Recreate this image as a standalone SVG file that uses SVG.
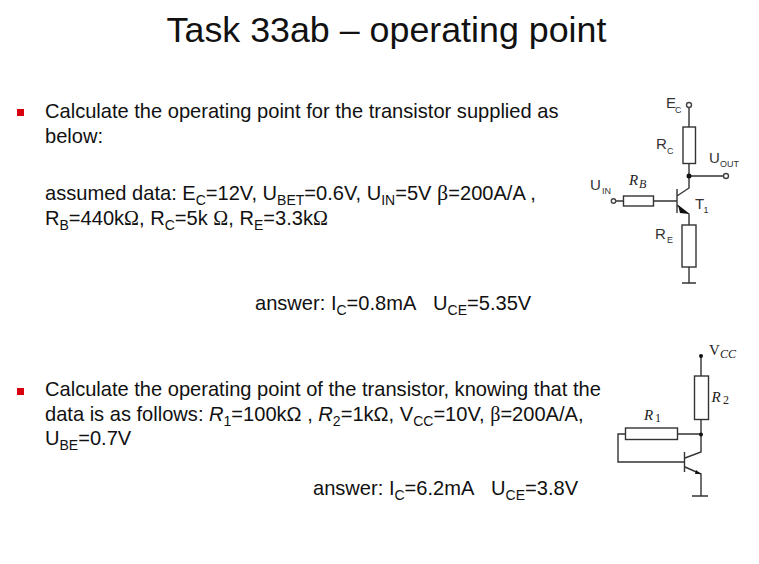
<svg xmlns="http://www.w3.org/2000/svg" width="759" height="564" viewBox="0 0 759 564">
<style>
text{font-family:"Liberation Sans",Arial,sans-serif;fill:#111}
.t{font-size:20.08px}
.s{font-size:14px}
.g{font-family:"Liberation Serif","Times New Roman",serif}
.i{font-style:italic}
.w{fill:none;stroke:#333;stroke-width:1.4}
.r{fill:#fff;stroke:#333;stroke-width:1.4}
.c{fill:#fff;stroke:#444;stroke-width:1.4}
.d{fill:#111;stroke:none}
.l{font-size:15px;fill:#333}
.l2{font-size:9px;fill:#333}
.sf{font-family:"Liberation Serif","Times New Roman",serif;fill:#222}
</style>
<rect width="759" height="564" fill="#fff"/>
<text x="386.500" y="42" font-size="35.800" text-anchor="middle">Task 33ab – operating point</text>
<g id="bullets" fill="#d8000f"><rect x="17" y="109" width="7" height="7"/><rect x="17" y="388" width="7" height="7"/></g>
<g id="task-a">
<text class="t" x="45" y="118">Calculate the operating point for the transistor supplied as</text>
<text class="t" x="45" y="143">below:</text>
<text class="t" x="45" y="200">assumed data: E<tspan class="s" dy="5">C</tspan><tspan dy="-5">=12V, U</tspan><tspan class="s" dy="5">BET</tspan><tspan dy="-5">=0.6V, U</tspan><tspan class="s" dy="5">IN</tspan><tspan dy="-5">=5V </tspan><tspan class="g" font-size="22">β</tspan>=200A/A ,</text>
<text class="t" x="45" y="225">R<tspan class="s" dy="5">B</tspan><tspan dy="-5">=440k</tspan><tspan class="g">Ω</tspan>, R<tspan class="s" dy="5">C</tspan><tspan dy="-5">=5k </tspan><tspan class="g">Ω</tspan>, R<tspan class="s" dy="5">E</tspan><tspan dy="-5">=3.3k</tspan><tspan class="g">Ω</tspan></text>
<text class="t" x="255" y="310">answer: I<tspan class="s" dy="5">C</tspan><tspan dy="-5">=0.8mA&#160;&#160; U</tspan><tspan class="s" dy="5">CE</tspan><tspan dy="-5">=5.35V</tspan></text>
</g>
<g id="task-b">
<text class="t" x="45" y="396">Calculate the operating point of the transistor, knowing that the</text>
<text class="t" x="45" y="421">data is as follows: <tspan class="i">R</tspan><tspan class="s" dy="5">1</tspan><tspan dy="-5">=100kΩ , </tspan><tspan class="i">R</tspan><tspan class="s" dy="5">2</tspan><tspan dy="-5">=1kΩ, V</tspan><tspan class="s" dy="5">CC</tspan><tspan dy="-5">=10V, </tspan><tspan class="g">β</tspan>=200A/A,</text>
<text class="t" x="45" y="445">U<tspan class="s" dy="5">BE</tspan><tspan dy="-5">=0.7V</tspan></text>
<text class="t" x="313" y="495">answer: I<tspan class="s" dy="5">C</tspan><tspan dy="-5">=6.2mA&#160;&#160; U</tspan><tspan class="s" dy="5">CE</tspan><tspan dy="-5">=3.8V</tspan></text>
</g>
<g id="connectors">
<path class="w" d="M689 107V127M689 163V176M689 176H724M689 176V188L677 196M616 201H623M653 201H677M677 189V213M677 205L689 214V225M689 267V283M682 283H696"/>
<path class="d" d="M678 205L689 214L680 213Z"/>
<path class="w" d="M701 356V376M701 419V452L685 458M677 434H701M625 434H618V462H684M684.500 452V472M685 467L701 474V496M692 496H708"/>
<path class="d" d="M696 470L701 474L695 474Z"/>
</g>
<g id="node-ec"><circle class="c" cx="689" cy="105" r="2.500"/><text class="l" x="666" y="108">E</text><text class="l2" x="675" y="113">C</text></g>
<g id="node-rc"><rect class="r" x="683" y="127" width="12.500" height="36.500"/><text class="l" x="656" y="149">R</text><text class="l2" x="667" y="154">C</text></g>
<g id="node-uout"><circle class="d" cx="689" cy="176" r="2.500"/><circle class="c" cx="726" cy="176" r="2.500"/><text class="l" x="709" y="163">U</text><text class="l2" x="720" y="167">OUT</text></g>
<g id="node-uin"><circle class="c" cx="613.500" cy="201" r="2.200"/><text class="l" x="590" y="190">U</text><text class="l2" x="602" y="194">IN</text></g>
<g id="node-rb"><rect class="r" x="623.500" y="196" width="30" height="10"/><text class="sf i" x="629" y="185" font-size="15">R</text><text class="sf i" x="639" y="188" font-size="12">B</text></g>
<g id="node-t1"><text class="l" x="695" y="209">T</text><text class="l2" x="703.500" y="213">1</text></g>
<g id="node-re"><rect class="r" x="682" y="225" width="14" height="42"/><text class="l" x="655" y="239">R</text><text class="l2" x="667" y="243">E</text></g>
<g id="node-vcc"><circle class="d" cx="701" cy="356" r="2"/><text class="sf" x="709" y="355" font-size="15">V</text><text class="sf i" x="720" y="358" font-size="12">CC</text></g>
<g id="node-r2"><rect class="r" x="694.500" y="376" width="14" height="43.500"/><text class="sf i" x="711.500" y="402" font-size="15">R</text><text class="sf" x="723" y="404" font-size="12">2</text></g>
<g id="node-r1"><rect class="r" x="625.500" y="428" width="52" height="11.500"/><circle class="d" cx="701" cy="434.500" r="2"/><text class="sf i" x="644" y="420" font-size="15">R</text><text class="sf" x="655" y="422" font-size="12">1</text></g>
</svg>
